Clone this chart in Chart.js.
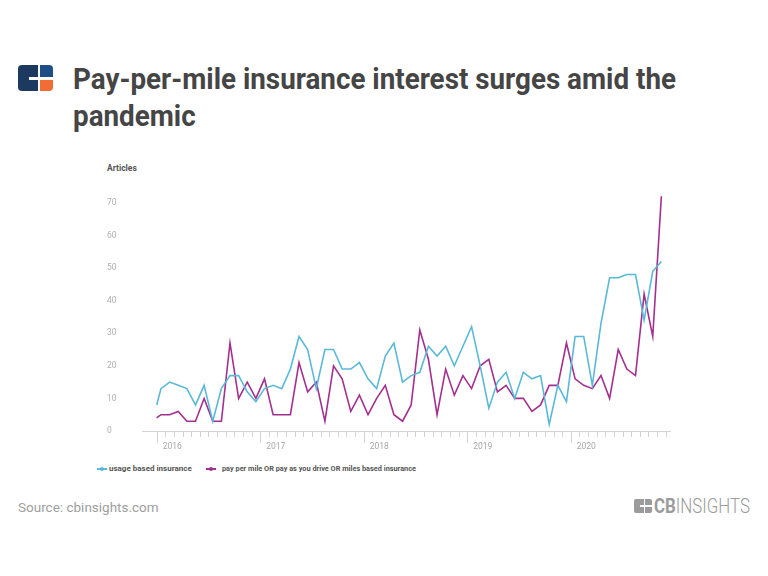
<!DOCTYPE html>
<html><head><meta charset="utf-8">
<script src="https://cdn.jsdelivr.net/npm/chart.js@4.4.1/dist/chart.umd.min.js"></script>
<style>
html,body{margin:0;padding:0;background:#fff;}
body{width:768px;height:576px;position:relative;overflow:hidden;font-family:Roboto,"Noto Sans",sans-serif;}
.abs{position:absolute;white-space:nowrap;}
.fit{display:inline-block;transform-origin:0 0;}
.title{font-weight:700;font-size:30px;line-height:30px;color:#454545;}
.blk{position:absolute;}
</style></head>
<body>
<div class="abs" style="left:18px;top:65px;width:35px;height:26px;border-radius:4px;overflow:hidden;">
  <div class="blk" style="left:0;top:0;width:20px;height:26px;background:#1c3a60;"></div>
  <div class="blk" style="left:11px;top:11.5px;width:9px;height:3px;background:#fff;"></div>
  <div class="blk" style="left:22px;top:0;width:13px;height:11.5px;background:#1d4f86;"></div>
  <div class="blk" style="left:22px;top:14.5px;width:13px;height:11.5px;background:#f26c35;"></div>
</div>
<div class="abs title" style="left:73px;top:64px;"><span class="fit" id="t1" data-w="603">Pay-per-mile insurance interest surges amid the</span></div>
<div class="abs title" style="left:73px;top:101px;"><span class="fit" id="t2" data-ref="t1">pandemic</span></div>

<div class="abs" style="left:107px;top:163px;font-size:8.5px;line-height:10px;font-weight:700;color:#555;">Articles</div>

<div class="abs" style="left:100px;top:150px;width:580px;height:300px;"><canvas id="c" width="580" height="300"></canvas></div>

<div class="abs" style="left:97px;top:468px;width:10px;height:1.5px;background:#5ab8d8;"></div>
<div class="abs" style="left:100px;top:467px;width:4px;height:4px;border-radius:2px;background:#5ab8d8;"></div>
<div class="abs" style="left:109px;top:464px;font-size:8px;line-height:10px;font-weight:700;color:#555;"><span class="fit" id="lg1"></span></div>
<div class="abs" style="left:206px;top:468px;width:10px;height:1.5px;background:#a3308e;"></div>
<div class="abs" style="left:209px;top:467px;width:4px;height:4px;border-radius:2px;background:#a3308e;"></div>
<div class="abs" style="left:222px;top:464px;font-size:8px;line-height:10px;font-weight:700;color:#555;"><span class="fit" id="lg2" data-w="194"></span></div>

<div class="abs" style="left:18px;top:499px;font-size:13.5px;line-height:16px;color:#9e9e9e;">Source: cbinsights.com</div>

<div class="abs" style="left:634px;top:499px;width:18px;height:14px;border-radius:2px;overflow:hidden;">
  <div class="blk" style="left:0;top:0;width:10px;height:14px;background:#9b9b9b;"></div>
  <div class="blk" style="left:5.5px;top:6px;width:4.5px;height:2px;background:#fff;"></div>
  <div class="blk" style="left:11px;top:0;width:7px;height:6px;background:#9b9b9b;"></div>
  <div class="blk" style="left:11px;top:8px;width:7px;height:6px;background:#9b9b9b;"></div>
</div>
<div class="abs" style="left:654px;top:494px;font-size:21px;line-height:24px;color:#9b9b9b;"><span class="fit" id="cbl" data-w="96"><b>CB</b><span style="font-weight:300">INSIGHTS</span></span></div>

<script>
// ---------- data ----------
const periods = [
  '2016-01-01',
  '2016-01-16','2016-02-16','2016-03-16','2016-04-16','2016-05-16','2016-06-16','2016-07-16','2016-08-16','2016-09-16','2016-10-16','2016-11-16','2016-12-16',
  '2017-01-16','2017-02-16','2017-03-16','2017-04-16','2017-05-16','2017-06-16','2017-07-16','2017-08-16','2017-09-16','2017-10-16','2017-11-16','2017-12-16',
  '2018-01-16','2018-02-16','2018-03-16','2018-04-16','2018-05-16','2018-06-16','2018-07-16','2018-08-16','2018-09-16','2018-10-16','2018-11-16','2018-12-16',
  '2019-01-16','2019-02-16','2019-03-16','2019-04-16','2019-05-16','2019-06-16','2019-07-16','2019-08-16','2019-09-16','2019-10-16','2019-11-16','2019-12-16',
  '2020-01-16','2020-02-16','2020-03-16','2020-04-16','2020-05-16','2020-06-16','2020-07-16','2020-08-16','2020-09-16','2020-10-16','2020-11-16'
];
const usageBased = [
  8,
  13,15,14,13,8,14,3,13,17,17,12,9,
  13,14,13,19,29,25,13,25,25,19,19,21,
  16,13,23,27,15,17,18,26,23,26,20,26,
  32,20,7,15,18,10,18,16,17,2,14,9,
  29,29,14,33,47,47,48,48,34,49,52
];
const payPerMile = [
  4,
  5,5,6,3,3,10,3,3,27,10,15,10,
  16,5,5,5,21,12,15,3,20,16,6,11,
  5,10,14,5,3,8,31,22,5,19,11,17,
  13,20,22,12,14,10,10,6,8,14,14,27,
  16,14,13,17,10,25,19,17,42,29,72
];
const yearLabels = ['2016','2017','2018','2019','2020'];
const yearStarts = ['2016-01-01','2017-01-01','2018-01-01','2019-01-01','2020-01-01'];
const yTicks = [0,10,20,30,40,50,60,70];
const seriesNames = ['usage based insurance','pay per mile OR pay as you drive OR miles based insurance'];

function monthPos(s){ const [y,m,d]=s.split('-').map(Number); return (y-2016)*12+(m-1)+(d-1)/30; }

const axisDecor = {
  id:'axisDecor',
  afterDraw(chart){
    const {ctx, chartArea, scales:{x}} = chart;
    ctx.save();
    ctx.strokeStyle='#d3d3d3'; ctx.lineWidth=1;
    const last = Math.floor(x.max);
    for(let m=0;m<=last;m++){
      const px=Math.round(x.getPixelForValue(m))+0.5;
      const len = (m%12===0)?12:6;
      ctx.beginPath(); ctx.moveTo(px, chartArea.bottom); ctx.lineTo(px, chartArea.bottom+len); ctx.stroke();
    }
    ctx.fillStyle='#a8a8a8'; ctx.font='8.5px Roboto'; ctx.textBaseline='middle'; ctx.textAlign='left';
    yearLabels.forEach((lab,i)=>{
      const px=x.getPixelForValue(monthPos(yearStarts[i]));
      ctx.fillText(lab, px+6, chartArea.bottom+16);
    });
    ctx.restore();
  }
};

function mk(vals){ return periods.map((p,i)=>({x:monthPos(p), y:vals[i]})); }

function draw(){
  document.getElementById('lg1').textContent = seriesNames[0];
  document.getElementById('lg2').textContent = seriesNames[1];
  document.querySelectorAll('.fit[data-w]').forEach(el=>{
    const w=el.getBoundingClientRect().width;
    el.style.transform='scaleX('+(parseFloat(el.dataset.w)/w)+')';
  });
  document.querySelectorAll('.fit[data-ref]').forEach(el=>{
    el.style.transform=document.getElementById(el.dataset.ref).style.transform;
  });
  new Chart(document.getElementById('c'), {
    type:'line',
    data:{datasets:[
      {label:seriesNames[0], data:mk(usageBased), borderColor:'#5ab8d8', borderWidth:1.6, pointRadius:0, tension:0},
      {label:seriesNames[1], data:mk(payPerMile), borderColor:'#a3308e', borderWidth:1.6, pointRadius:0, tension:0}
    ]},
    options:{
      responsive:false, animation:false, devicePixelRatio:1,
      layout:{padding:{left:7,right:10,top:30,bottom:19}},
      plugins:{legend:{display:false}, tooltip:{enabled:false}},
      scales:{
        x:{type:'linear', min:-1.7, max:59.5, grid:{display:false}, border:{display:true,color:'#d3d3d3',width:1}, ticks:{display:false}, afterFit(s){s.height=0;}},
        y:{type:'linear', min:0, max:77, grid:{display:false}, border:{display:false},
           afterBuildTicks(s){ s.ticks = yTicks.map(v=>({value:v})); },
           ticks:{crossAlign:'far', color:'#b0b0b0', font:{family:'Roboto',size:8.5}, padding:0},
           afterFit(s){s.width=35;}}
      }
    },
    plugins:[axisDecor]
  });
}
(document.fonts && document.fonts.ready ? document.fonts.ready : Promise.resolve()).then(draw);
</script>
</body></html>
